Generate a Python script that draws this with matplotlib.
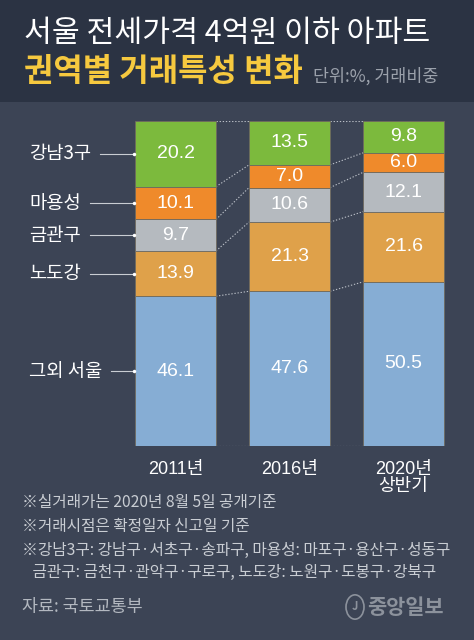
import numpy as np
import matplotlib
matplotlib.use('Agg')
import matplotlib.pyplot as plt
import matplotlib.patches as mpatches
import matplotlib.transforms as mtransforms

plt.rcParams['font.family'] = ['Noto Sans CJK KR', 'DejaVu Sans']

# ── 데이터 ──
years = ['2011년', '2016년', '2020년\n상반기']
regions = ['그외 서울', '노도강', '금관구', '마용성', '강남3구']   # 아래에서 위로
etc_seoul = [46.1, 47.6, 50.5]
nodogang = [13.9, 21.3, 21.6]
geumgwangu = [9.7, 10.6, 12.1]
mayongseong = [10.1, 7.0, 6.0]
gangnam3 = [20.2, 13.5, 9.8]
series = [etc_seoul, nodogang, geumgwangu, mayongseong, gangnam3]

notes = ['※실거래가는 2020년 8월 5일 공개기준',
         '※거래시점은 확정일자 신고일 기준',
         '※강남3구: 강남구·서초구·송파구, 마용성: 마포구·용산구·성동구',
         '   금관구: 금천구·관악구·구로구, 노도강: 노원구·도봉구·강북구']

# ── 스타일 ──
W, H = 474, 640
HEAD = '#2b3343'
BODY = '#3c4455'
COLORS = ['#86add4', '#dfa14a', '#b5babf', '#ef8a2b', '#7cba3d']
NUM_FONT = ['Liberation Sans', 'Noto Sans CJK KR']
NOTE_C = '#c9cdd3'


def fx(x):
    return x / W


def fy(y):
    return 1 - y / H


fig = plt.figure(figsize=(W / 100, H / 100), dpi=100)
fig.patch.set_facecolor(BODY)
fig.add_artist(mpatches.Rectangle((0, fy(102)), 1, 1 - fy(102), transform=fig.transFigure,
                                  fc=HEAD, ec='none', zorder=0))

# 제목
fig.text(fx(24), fy(34), '서울 전세가격 4억원 이하 아파트', fontsize=21.8, color='white',
         ha='left', va='center')
fig.text(fx(24), fy(72), '권역별 거래특성 변화', fontsize=23, color='#f6c93f',
         fontweight='bold', ha='left', va='center')
fig.text(fx(313), fy(76), '단위:%, 거래비중', fontsize=12.5, color='#9ba1ab',
         ha='left', va='center')

# 막대 영역: 바 중심 175.5 / 289.5 / 403.5 px, 상단 121, 하단 446
left, right = 118.5, 460.5
top, bottom = 121, 446
ax = fig.add_axes([fx(left), fy(bottom), (right - left) / W, (bottom - top) / H])
ax.set_xlim(-0.5, 2.5)
ax.set_ylim(0, 100)
ax.set_axis_off()

x = np.arange(len(years))
bw = 0.71
base = np.zeros(len(years))
bounds = [base.copy()]
for vals, c in zip(series, COLORS):
    vals = np.array(vals)
    ax.bar(x, vals, bottom=base, width=bw, color=c, edgecolor='#6f6a5f', lw=0.6, zorder=3)
    for xi, b, v in zip(x, base, vals):
        ax.text(xi, b + v / 2, f'{v:.1f}', ha='center', va='center', fontsize=14,
                color='white', family=NUM_FONT, zorder=4)
    base = base + vals
    bounds.append(base.copy())

# 점선 연결선
for bd in bounds:
    for i in range(len(years) - 1):
        ax.plot([x[i] + bw / 2, x[i + 1] - bw / 2], [bd[i], bd[i + 1]], ls=(0, (1.2, 1.6)),
                color='#b9bec6', lw=0.8, zorder=2)

# 좌측 권역 라벨
trans = mtransforms.blended_transform_factory(fig.transFigure, ax.transData)
renderer = fig.canvas.get_renderer()
for k, name in enumerate(regions):
    yc = (bounds[k][0] + bounds[k + 1][0]) / 2
    t = fig.text(fx(29), 0, name, transform=trans, fontsize=13.5, color='white',
                 ha='left', va='center', fontweight='medium')
    t.set_y(yc)
    bb = t.get_window_extent(renderer)
    x0 = (bb.x1 + 9) / W
    fig.add_artist(plt.Line2D([x0, fx(134)], [yc, yc], transform=trans, color='#c9cdd3', lw=0.8))
    fig.add_artist(plt.Line2D([fx(134)], [yc], transform=trans, marker='o', ms=2.5,
                              color='white', mec='none'))

# 연도 라벨
for xi, lab in zip(x, years):
    ax.text(xi, -4.6, lab, ha='center', va='top', fontsize=13, color='white',
            family=NUM_FONT, linespacing=1.0)

# 주석
note_y = [503, 527, 550, 572]
for yy, s in zip(note_y, notes):
    fig.text(fx(22), fy(yy), s, fontsize=11.3, color=NOTE_C, ha='left', va='center')
fig.text(fx(22), fy(607), '자료: 국토교통부', fontsize=12.5, color='#b3b8c0', ha='left', va='center')

# 중앙일보 로고
logo_c = '#8c929c'
fig.add_artist(mpatches.Circle((fx(355), fy(607)), 9 / W, transform=fig.transFigure,
                               fill=False, ec=logo_c, lw=1.2))
fig.text(fx(355), fy(607), 'J', fontsize=8, color=logo_c, ha='center', va='center',
         fontweight='bold')
fig.text(fx(367), fy(607), '중앙일보', fontsize=15, color=logo_c, ha='left', va='center',
         fontweight='bold')

fig.savefig('out.png', dpi=100, facecolor=BODY)
